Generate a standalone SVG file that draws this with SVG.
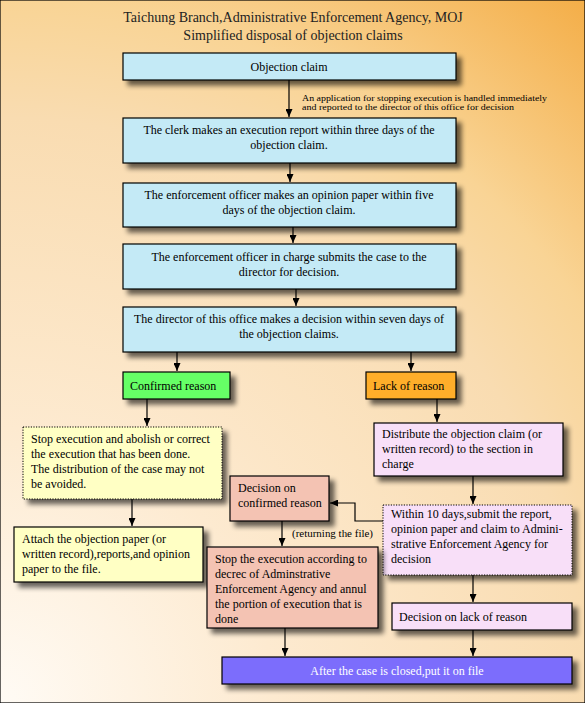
<svg xmlns="http://www.w3.org/2000/svg" width="585" height="703" viewBox="0 0 585 703" font-family="Liberation Serif, Times New Roman, serif">
<defs>
<radialGradient id="bg" gradientUnits="userSpaceOnUse" cx="0" cy="703" r="914">
<stop offset="0" stop-color="#fffbf5"/>
<stop offset="0.3" stop-color="#fdead0"/>
<stop offset="0.64" stop-color="#f9dcb1"/>
<stop offset="0.77" stop-color="#f9d495"/>
<stop offset="1" stop-color="#f4ae48"/>
</radialGradient>
<filter id="sh" x="-20%" y="-20%" width="150%" height="160%">
<feGaussianBlur in="SourceAlpha" stdDeviation="2.5"/>
<feOffset dx="5" dy="5" result="b"/>
<feComponentTransfer><feFuncA type="linear" slope="0.6"/></feComponentTransfer>
<feMerge><feMergeNode/><feMergeNode in="SourceGraphic"/></feMerge>
</filter>
<marker id="ah" viewBox="0 0 8 8" refX="8" refY="4" markerWidth="8" markerHeight="7" markerUnits="userSpaceOnUse" orient="auto" preserveAspectRatio="none">
<path d="M0,0 L8,4 L0,8 z" fill="#000"/>
</marker>
</defs>
<style>
text{font-family:'Liberation Serif','Times New Roman',serif;font-size:12px;fill:#000}
.t{font-size:14px;fill:#222}
.c{text-anchor:middle}
.s{font-size:9px}
.r{font-size:10.5px}
rect{stroke:#000;stroke-width:1.2}
.blue{fill:#c4eaf6}
.green{fill:#66ff66}
.orange{fill:#ffae2c}
.yel{fill:#ffffc4}
.pink{fill:#f8dff8}
.sal{fill:#f4c3b3}
.fin{fill:#7c6dfc}
.dot{stroke-dasharray:1.2 1.4;stroke-width:1}
.w{fill:#fff}
#conn path{fill:none;stroke:#000;stroke-width:1.2;marker-end:url(#ah)}
</style>
<rect x="0" y="0" width="585" height="703" fill="url(#bg)" stroke="none"/>
<text class="t c" x="293" y="22">Taichung Branch,Administrative Enforcement Agency, MOJ</text>
<text class="t c" x="293" y="40">Simplified disposal of objection claims</text>

<g id="conn">
<path d="M289,80 V117"/>
<path d="M290,163 V182"/>
<path d="M293,227 V243"/>
<path d="M296,289 V306"/>
<path d="M177,352 V371"/>
<path d="M411,352 V371"/>
<path d="M147,399 V426"/>
<path d="M437,399 V422"/>
<path d="M132,499 V526"/>
<path d="M473,476 V504"/>
<path d="M383,521 H355 V503 H330"/>
<path d="M282,521 V546"/>
<path d="M473,575 V602"/>
<path d="M285,628 V656"/>
<path d="M473,630 V656"/>
<text class="s" x="302" y="101" textLength="245" lengthAdjust="spacingAndGlyphs">An application for stopping execution is handled immediately</text>
<text class="s" x="302" y="110" textLength="212" lengthAdjust="spacingAndGlyphs">and reported to the director of this office for decision</text>
<text class="r" x="292" y="537" textLength="81" lengthAdjust="spacingAndGlyphs">(returning the file)</text>
</g>

<g id="n1"><rect class="blue" x="123" y="53" width="333" height="27" filter="url(#sh)"/>
<text class="c" x="289" y="71">Objection claim</text></g>

<g id="n2"><rect class="blue" x="123" y="118" width="333" height="45" filter="url(#sh)"/>
<text class="c" x="289" y="134">The clerk makes an execution report within three days of the</text>
<text class="c" x="289" y="149">objection claim.</text></g>

<g id="n3"><rect class="blue" x="123" y="183" width="333" height="44" filter="url(#sh)"/>
<text class="c" x="289" y="199">The enforcement officer makes an opinion paper within five</text>
<text class="c" x="289" y="214">days of the objection claim.</text></g>

<g id="n4"><rect class="blue" x="123" y="244" width="333" height="45" filter="url(#sh)"/>
<text class="c" x="289" y="261">The enforcement officer in charge submits the case to the</text>
<text class="c" x="289" y="276">director for decision.</text></g>

<g id="n5"><rect class="blue" x="123" y="307" width="333" height="45" filter="url(#sh)"/>
<text class="c" x="289" y="323">The director of this office makes a decision within seven days of</text>
<text class="c" x="289" y="338">the objection claims.</text></g>

<g id="n6"><rect class="green" x="123" y="372" width="107" height="27" filter="url(#sh)"/>
<text x="130" y="390">Confirmed reason</text></g>

<g id="n7"><rect class="orange" x="366" y="372" width="90" height="27" filter="url(#sh)"/>
<text x="373" y="390">Lack of reason</text></g>

<g id="n8"><rect class="yel dot" x="23" y="427" width="199" height="72" filter="url(#sh)"/>
<text x="31" y="443">Stop execution and abolish or correct</text>
<text x="31" y="458">the execution that has been done.</text>
<text x="31" y="473">The distribution of the case may not</text>
<text x="31" y="488">be avoided.</text></g>

<g id="n9"><rect class="yel" x="14" y="527" width="189" height="55" filter="url(#sh)"/>
<text x="22" y="543">Attach the objection paper (or</text>
<text x="22" y="558">written record),reports,and opinion</text>
<text x="22" y="573">paper to the file.</text></g>

<g id="n10"><rect class="pink" x="374" y="423" width="189" height="53" filter="url(#sh)"/>
<text x="382" y="438">Distribute the objection claim (or</text>
<text x="382" y="453">written record) to the section in</text>
<text x="382" y="468">charge</text></g>

<g id="n11"><rect class="pink dot" x="383" y="505" width="189" height="70" filter="url(#sh)"/>
<text x="391" y="518">Within 10 days,submit the report,</text>
<text x="391" y="533">opinion paper and claim to Admini-</text>
<text x="391" y="548">strative Enforcement Agency for</text>
<text x="391" y="563">decision</text></g>

<g id="n12"><rect class="sal" x="230" y="476" width="99" height="45" filter="url(#sh)"/>
<text x="238" y="492">Decision on</text>
<text x="238" y="507">confirmed reason</text></g>

<g id="n13"><rect class="sal" x="207" y="547" width="171" height="81" filter="url(#sh)"/>
<text x="215" y="563">Stop the execution according to</text>
<text x="215" y="578">decrec of Adminstrative</text>
<text x="215" y="593">Enforcement Agency and annul</text>
<text x="215" y="608">the portion of execution that is</text>
<text x="215" y="623">done</text></g>

<g id="n14"><rect class="pink" x="392" y="603" width="180" height="27" filter="url(#sh)"/>
<text x="399" y="621">Decision on lack of reason</text></g>

<g id="n15"><rect class="fin" x="222" y="657" width="350" height="27" filter="url(#sh)"/>
<text class="c w" x="397" y="675">After the case is closed,put it on file</text></g>
</svg>
